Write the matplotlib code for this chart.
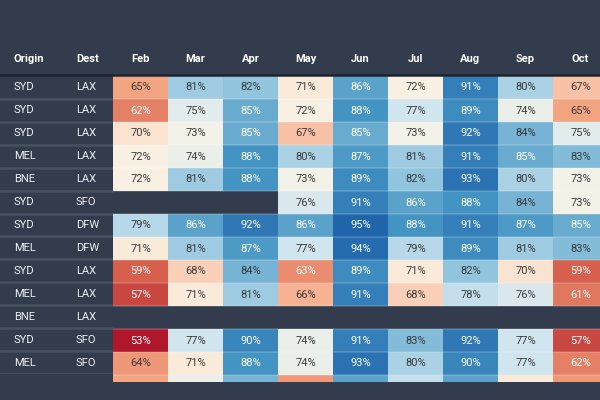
import numpy as np
import matplotlib.pyplot as plt
from matplotlib.colors import LinearSegmentedColormap, Normalize
from matplotlib.transforms import blended_transform_factory

plt.rcParams['font.family'] = ['Roboto', 'DejaVu Sans']

# table data
months = ['Feb', 'Mar', 'Apr', 'May', 'Jun', 'Jul', 'Aug', 'Sep', 'Oct']
origin = ['SYD', 'SYD', 'SYD', 'MEL', 'BNE', 'SYD', 'SYD', 'MEL', 'SYD', 'MEL', 'BNE', 'SYD', 'MEL', '']
dest = ['LAX', 'LAX', 'LAX', 'LAX', 'LAX', 'SFO', 'DFW', 'DFW', 'LAX', 'LAX', 'LAX', 'SFO', 'SFO', '']
nan = np.nan
load = [
    [65, 81, 82, 71, 86, 72, 91, 80, 67],
    [62, 75, 85, 72, 88, 77, 89, 74, 65],
    [70, 73, 85, 67, 85, 73, 92, 84, 75],
    [72, 74, 88, 80, 87, 81, 91, 85, 83],
    [72, 81, 88, 73, 89, 82, 93, 80, 73],
    [nan, nan, nan, 76, 91, 86, 88, 84, 73],
    [79, 86, 92, 86, 95, 88, 91, 87, 85],
    [71, 81, 87, 77, 94, 79, 89, 81, 83],
    [59, 68, 84, 63, 89, 71, 82, 70, 59],
    [57, 71, 81, 66, 91, 68, 78, 76, 61],
    [nan] * 9,
    [53, 77, 90, 74, 91, 83, 92, 77, 57],
    [64, 71, 88, 74, 93, 80, 90, 77, 62],
    [65, 74, 84, 64, 86, 78, 86, 71, 64],
]

BG = '#323c4c'
W, H = 600, 400
body_top, body_bot = 76, 382
n_full = 13
row_h = (375 - body_top) / n_full

# diverging scale, anchored at a few load factors
vmin, vmax = 48, 100
anchors = [(48, '#7a0522'), (53, '#b2182b'), (59, '#d6604d'), (65, '#f4a582'),
           (68.5, '#fdd8c3'), (72.5, '#f8f5e8'), (77, '#d1e5f0'), (82, '#92c5de'),
           (88, '#4393c3'), (95, '#2166ac'), (100, '#0b3d73')]
cmap = LinearSegmentedColormap.from_list(
    'load', [((v - vmin) / (vmax - vmin), c) for v, c in anchors])
norm = Normalize(vmin=vmin, vmax=vmax)

fig = plt.figure(figsize=(6, 4), dpi=100, facecolor=BG)

vals = np.ma.masked_invalid(np.array(load, dtype=float))
nrows, ncols = vals.shape

# heatmap area
left_px = 113
col_w = 55
ax = fig.add_axes([left_px / W, 1 - body_bot / H, (W - left_px) / W, (body_bot - body_top) / H])
ax.set_facecolor(BG)
ax.imshow(vals, cmap=cmap, norm=norm, aspect='auto', interpolation='nearest')
ax.set_xlim(-0.5, -0.5 + (W - left_px) / col_w)
ax.set_ylim(-0.5 + (body_bot - body_top) / row_h, -0.5)
ax.axis('off')

for i in range(nrows):
    for j in range(ncols):
        v = vals[i, j]
        if np.ma.is_masked(v):
            continue
        color = 'white' if (v >= 85 or v <= 63) else '#3b3b3b'
        ax.text(j, i, '%d%%' % v, ha='center', va='center', fontsize=8,
                color=color, clip_on=True)

for i in range(nrows):
    ax.axhline(i + 0.5, color='white', alpha=0.15, lw=1.5)

# label area
lab = fig.add_axes([0, 1 - 374 / H, left_px / W, (374 - body_top) / H])
lab.set_facecolor(BG)
lab.set_xlim(0, left_px)
lab.set_ylim(n_full - 0.5, -0.5)
lab.axis('off')
for i in range(n_full):
    lab.text(14, i, origin[i], ha='left', va='center', fontsize=8, color='#eef0f3')
    lab.text(76, i, dest[i], ha='left', va='center', fontsize=8, color='#eef0f3')
for i in range(n_full):
    lab.axhline(i + 0.5, color='#46505f', lw=1.8)

# header
hdr_y = 1 - 59 / H
fig.text(14 / W, hdr_y, 'Origin', ha='left', va='center', fontsize=8, color='white', weight='bold')
fig.text(76 / W, hdr_y, 'Dest', ha='left', va='center', fontsize=8, color='white', weight='bold')
tr = blended_transform_factory(ax.transData, fig.transFigure)
for j, m in enumerate(months):
    ax.text(j, hdr_y, m, transform=tr, ha='center', va='center', fontsize=8,
            color='white', weight='bold', clip_on=False)

fig.add_artist(plt.Line2D([0, 1], [1 - 75 / H, 1 - 75 / H], transform=fig.transFigure,
                          color='#1e242e', lw=1.8))

fig.savefig('out.png', dpi=100, facecolor=BG)
